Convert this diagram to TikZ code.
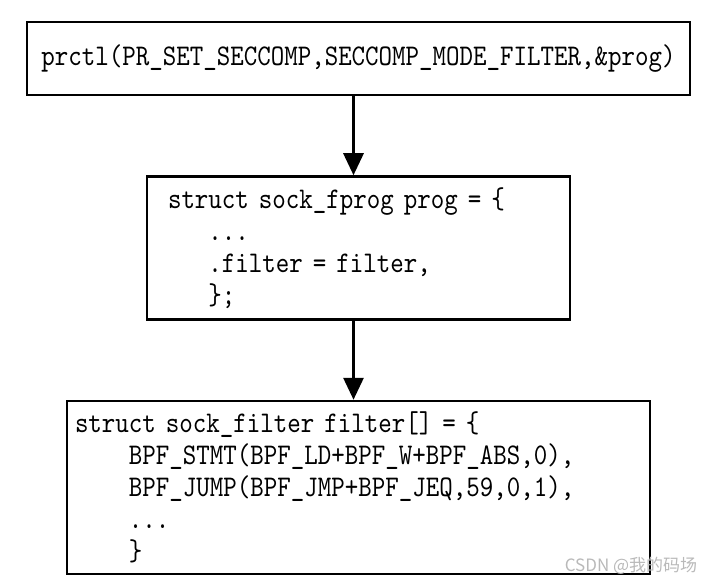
\documentclass[tikz,border=0pt]{standalone}
\usepackage{fontspec}
\usetikzlibrary{arrows.meta,positioning}
\newfontfamily\cjkfont{Noto Sans CJK SC}
\newfontfamily\codefont[Extension=.otf,FakeStretch=0.857]{lmmono10-regular}

\begin{document}
\begin{tikzpicture}[x=1pt,y=-1pt,node distance=80pt]

\tikzset{codebox/.style={draw,line width=2.5pt,font={\codefont\fontsize{30}{32}\selectfont\spaceskip=13.5pt\relax\xspaceskip=13.5pt\relax},align=left,inner ysep=0pt},
flowarrow/.style={line width=3pt,-{Triangle[length=22pt,width=20pt]}}}

\useasboundingbox (0,0) rectangle (714,585);

% call box
\node (call) [codebox,align=center,minimum width=663pt,minimum height=73pt,inner xsep=13pt] at (358.5,58.5) {prctl(PR\_SET\_SECCOMP,SECCOMP\_MODE\_FILTER,\&prog)};

% program and filter boxes
\node (prog) [codebox,below=79pt of call,minimum width=423pt,minimum height=143pt,inner xsep=21pt,text width=381pt] {struct sock\_fprog prog = \{\\ \phantom{xxx}...\\ \phantom{xxx}.filter = filter,\\ \phantom{xxx}\};};
\node (filt) [codebox,below=79pt of prog,minimum width=583pt,minimum height=173pt,inner xsep=8pt,text width=567pt] {struct sock\_filter filter[] = \{\\ \phantom{xxxx}BPF\_STMT(BPF\_LD+BPF\_W+BPF\_ABS,0),\\ \phantom{xxxx}BPF\_JUMP(BPF\_JMP+BPF\_JEQ,59,0,1),\\ \phantom{xxxx}...\\ \phantom{xxxx}\}};

% arrows
\draw[flowarrow] ([xshift=-5pt]call.south) -- ([xshift=-5pt]prog.north);
\draw[flowarrow] ([xshift=-5pt]prog.south) -- ([xshift=-5pt]filt.north);

% watermark
\node (mark) [font={\cjkfont\fontsize{17}{17}\selectfont},text=gray!55] at (631,566) {CSDN @我的码场};

\end{tikzpicture}
\end{document}
